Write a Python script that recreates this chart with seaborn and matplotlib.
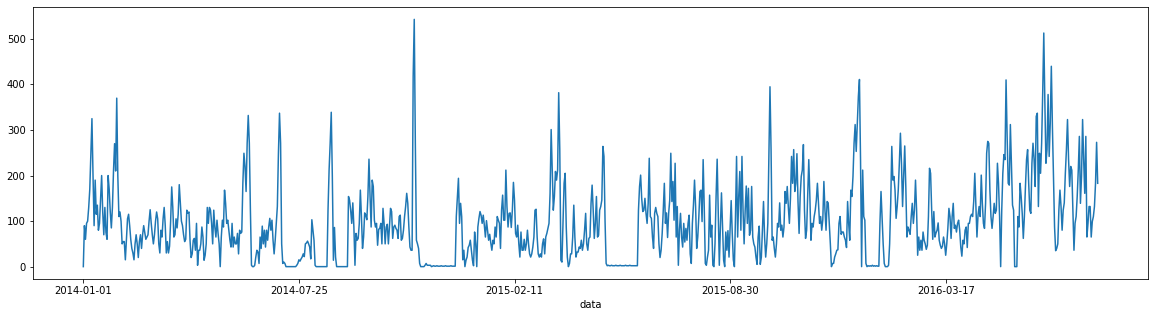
import numpy as np
import pandas as pd
import matplotlib
matplotlib.use("Agg")
import matplotlib.pyplot as plt
import seaborn as sns

# daily values, in order
valores_2014a = [
    0, 90, 60, 95, 100, 130, 170, 250, 325, 200,
    90, 190, 115, 135, 80, 95, 150, 200, 120,
    70, 130, 75, 60, 200, 170, 120, 85, 130, 210,
    270, 210, 370, 200, 110, 120, 100, 50, 55,
    55, 15, 60, 105, 115, 90, 60, 40, 30, 15,
    50, 70, 50, 20, 55, 70, 40, 70, 90,
    75, 60, 65, 70, 100, 125, 95, 70, 50,
    70, 100, 120, 105, 50, 30, 80, 65, 105, 130,
    90, 30, 55, 30, 45, 100, 175, 130, 65,
    70, 105, 85, 115, 180, 140, 100, 90, 70, 55,
]
valores_2014b = [
    60, 124, 117, 120, 58, 20, 28, 58, 62, 36, 95,
    3, 36, 36, 50, 87, 65, 14, 25, 50, 130,
    95, 130, 124, 95, 50, 124, 87, 65, 102, 73,
    50, 0, 65, 102, 87, 168, 139, 95, 102, 80,
    58, 43, 95, 43, 65, 50, 50, 73, 28,
    80, 73, 76, 183, 249, 220, 165, 271, 332, 271,
    124, 3, 0, 0, 3, 21, 36, 32, 7,
    65, 40, 89, 50, 80, 43, 80, 58, 87, 106,
    80, 102, 58, 28, 58, 95, 132, 249, 337, 271,
    50, 7, 10, 7, 0, 0, 0, 0,
]
valores_2014c = [
    0, 0, 0, 0, 0, 0,
    3, 7, 15, 12, 17, 21, 28, 22, 50, 52, 56, 50, 43, 17, 103, 80, 58, 3, 0,
    0, 0, 0, 0, 0, 0, 0, 0, 0, 0,
    124, 212, 271, 339, 198, 14, 86, 21, 0,
    0, 0, 0, 0, 0, 0, 0, 0, 0, 0,
    154, 146, 124, 95, 140, 87, 3, 73, 58,
    62, 95, 168, 110, 40, 65, 118, 113, 103, 154, 236, 154, 87,
    190, 176, 102, 87, 95, 47, 82, 84, 95,
    50, 128, 95, 50, 87, 93, 50, 87, 128, 121, 62, 87,
]
valores_2014d = [
    91, 84, 80, 62, 110, 113, 58, 62, 80, 110, 132, 161, 139, 87, 43, 36, 36,
    418, 543, 271, 58, 50, 40, 7, 0, 0, 0, 0, 3, 7, 3, 3, 3, 3, 0,
    1, 2, 1, 1, 2, 1, 1, 1, 2, 1, 1, 1, 2, 1, 1, 1, 1, 2, 1, 1, 1, 1,
    110, 154, 194, 95, 139, 110, 15, 36, 0, 14, 21, 42, 47,
    58, 36, 14, 2, 76, 50, 0, 87, 106, 121, 113, 95, 113,
    91, 65, 101, 80, 58, 71,
    52, 36, 58, 50, 87, 65, 110, 102, 95,
]
valores_2015a = [
    40, 124, 157, 102, 102, 212, 132, 87, 117, 118,
    86, 124, 185, 146, 73, 65, 91, 50, 21, 76,
    36, 36, 60, 36, 50, 80, 50, 28, 21, 28,
    43, 65, 124, 126, 65, 28, 21, 28, 21, 50,
    61, 28, 65, 73, 84, 95, 161, 301, 212, 124,
    154, 209, 190, 212, 382, 257, 14, 10, 95, 183,
    205, 87, 21, 0, 7, 28, 28, 65, 135, 65,
    21, 32, 32, 43, 40, 58, 36, 50, 80, 117,
    50, 36, 62, 65, 139, 179, 124, 62, 95, 154,
    65, 69, 124, 132, 146, 264, 242,
]
valores_2015b = [
    100, 7,
    2, 3, 2, 2, 3, 2, 2, 2, 3, 2, 2, 2, 3, 2, 2, 2, 2, 3, 2, 2, 2, 3, 2, 2, 2, 2, 2, 2, 2,
    124, 176, 201, 150, 121, 124, 150, 117, 95, 139, 238, 110, 106, 65, 40, 117, 130, 117,
    110, 50, 20, 36, 73, 124, 183, 95, 118, 64, 117, 146, 249, 143, 187, 102, 227,
    65, 132, 3, 80, 117, 65, 43, 95, 54, 84, 58, 95, 113,
    28, 7, 95, 135, 190, 132, 40, 65, 110, 165, 168, 99, 235, 132, 7, 3, 21, 36,
]
valores_2015c = [
    157, 65, 91, 3, 0, 50, 154, 236, 124, 3, 87, 162, 87, 14, 0, 76, 36, 79, 21,
    80, 145, 73, 15, 0, 110, 242, 65, 154, 209, 80, 242, 124, 50, 124, 177, 95, 172,
    69, 80, 176, 65, 50, 43, 21, 5, 65, 89, 5, 21, 80, 143, 65, 21, 50, 95, 242,
    395, 257, 58, 65, 40, 21, 50, 95, 87, 140, 80, 91, 65, 87, 165, 139, 176, 132, 95,
    150, 242, 183, 257, 165, 183, 248, 143, 73, 154, 198, 212, 268, 124, 62, 80, 157,
    235, 154, 58, 95, 87,
]
valores_2016a = [
    110,
    124, 146, 183, 139, 95, 110, 80, 103, 187, 124, 80, 143, 140, 95, 50, 0, 7, 7, 21, 28, 36,
    37, 95, 110, 71, 76, 76, 65, 58, 42, 143, 95, 58, 168, 154,
    198, 271, 312, 253, 315, 374, 411, 235, 0, 212, 110, 102, 7, 0, 2,
    1, 2, 1, 3, 1, 2, 1, 2, 1, 1,
    95, 165, 110, 50, 7, 0, 0, 0, 3, 50, 139, 264, 190, 198, 168, 106, 132, 168, 227,
    293, 227, 132, 198, 265, 176, 65, 87, 80, 71, 110, 139, 95, 124, 190, 124, 25, 65,
]
valores_2016b = [
    36, 58, 36, 76, 58, 50, 38, 47, 110, 216, 205, 124, 60, 121, 65,
    74, 80, 96, 58, 47, 40, 45, 65, 50, 25, 50, 84, 128, 110, 62, 110, 139, 84,
    91, 76, 95, 102, 80, 43, 23, 58, 50, 80, 87, 42, 95, 95, 110, 115, 110, 143,
    205, 132, 65, 113, 132,
    110, 201, 139, 95, 84, 139, 249, 275, 271, 168, 110, 84, 110, 139, 117, 124,
    227, 183, 110, 0, 124, 205, 246, 235, 410, 286, 183, 179, 312, 227, 135, 124,
    0, 0, 0, 110, 87,
]
valores_2016c = [
    183, 154, 117, 62, 110, 176, 235, 257, 183, 124, 117, 227, 271, 235, 176, 330,
    337, 132, 249, 205, 271, 382, 513, 360, 227, 257, 378, 242, 315, 440, 308, 198,
    87, 35, 40, 50, 124, 168, 132, 80, 124, 140, 205, 257, 323, 235, 176, 220, 212,
    124, 36, 95, 110, 154, 212, 286, 139, 198, 323, 235, 161, 286, 65, 95, 132, 132,
    65, 99, 110, 132, 183, 273, 183,
]

tick_labels = ["2014-01-01", "2014-07-25", "2015-02-11", "2015-08-30", "2016-03-17"]
tick_step = 200
x_label = "data"

valores = (valores_2014a + valores_2014b + valores_2014c + valores_2014d +
           valores_2015a + valores_2015b + valores_2015c +
           valores_2016a + valores_2016b + valores_2016c)

df = pd.DataFrame({"pos": np.arange(len(valores)), "valor": valores})

W, H, DPI = 1156, 317, 72
fig = plt.figure(figsize=(W / DPI, H / DPI), dpi=DPI)
ax = fig.add_axes([32.6 / W, 1 - 279 / H, (1148.4 - 32.6) / W, (279 - 7) / H])

sns.lineplot(data=df, x="pos", y="valor", ax=ax, color="#1f77b4", linewidth=1.5)

ticks = np.arange(0, len(valores), tick_step)[:len(tick_labels)]
ax.set_xticks(ticks)
ax.set_xticklabels(tick_labels)
ax.set_xlabel(x_label)
ax.set_ylabel("")
ax.tick_params(labelsize=10)

fig.savefig("out.png", dpi=DPI)
